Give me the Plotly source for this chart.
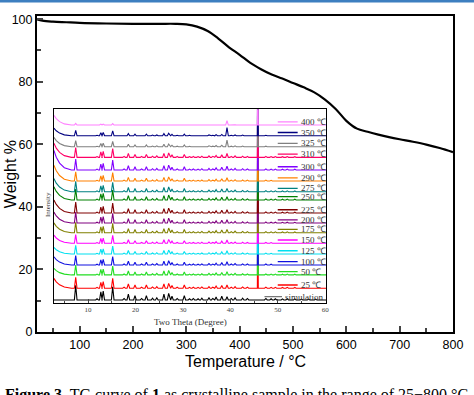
import plotly.graph_objects as go

# ---------------- TG curve data ----------------
tg_temp = [20, 30, 50, 75, 100, 150, 200, 250, 280, 300, 320, 340, 360, 380, 400,
           420, 440, 460, 480, 500, 520, 540, 560, 580, 600, 620, 640, 660, 680,
           700, 725, 750, 775, 800]
tg_weight = [99.9, 99.5, 99.2, 99.0, 98.8, 98.6, 98.5, 98.5, 98.5, 98.3, 97.6, 96.2,
             93.8, 91.0, 88.6, 86.0, 84.0, 82.3, 81.0, 79.6, 78.2, 76.6, 74.3, 71.3,
             67.5, 65.0, 64.0, 63.1, 62.3, 61.6, 60.8, 59.9, 58.8, 57.5]

# ---------------- inset XRD data ----------------
xrd_labels = ["simulation", "25 ℃", "50 ℃", "100 ℃", "125 ℃", "150 ℃", "175 ℃",
              "200 ℃", "225 ℃", "250 ℃", "275 ℃", "290 ℃", "300 ℃", "310 ℃",
              "325 ℃", "350 ℃", "400 ℃"]
xrd_colors = ["#000000", "#ff0000", "#22dd22", "#1010e0", "#00e0f0", "#ff00ff",
              "#808000", "#800080", "#800000", "#008000", "#008080", "#ff8000",
              "#8000ff", "#ff0066", "#808080", "#000080", "#ff80ff"]
xrd_offset = [0.25, 1.32, 2.54, 3.45, 4.45, 5.43, 6.40, 7.28, 8.20, 9.39, 10.15,
              11.12, 12.13, 13.29, 14.26, 15.26, 16.24]
xrd_scale = [1.35, 1.0, 0.9, 0.85, 0.8, 0.8, 0.95, 1.0, 1.0, 1.0, 0.95, 0.85,
             1.0, 0.9, 0.55, 0.5, 0.15]
low_rise = [0.0, 0.9, 0.6, 0.75, 0.6, 0.75, 0.9, 1.0, 1.2, 1.2, 1.2, 1.45, 1.8,
            1.3, 0.85, 0.7, 0.9]
spike_height = [0.0, 8.0, 8.0, 8.0, 8.0, 8.0, 8.0, 8.0, 8.0, 8.0, 8.0, 8.0, 8.0,
                8.0, 8.0, 8.0, 8.0]
peak39_height = [0.3, 0.3, 0.3, 0.3, 0.3, 0.3, 0.3, 0.3, 0.3, 0.3, 0.3, 0.3, 0.35,
                 0.35, 0.6, 0.75, 0.4]

peak_pos = [7.4, 11.9, 12.7, 13.2, 15.2, 17.6, 18.5, 19.9, 21.3, 22.3, 23.6, 24.5,
            26.0, 27.0, 27.7, 28.8, 30.3, 31.4, 32.2, 33.2, 34.0, 35.5, 36.3, 37.0,
            38.2, 40.2, 41.0, 42.6, 43.6, 47.5, 48.6, 49.5, 51.0, 52.0, 53.6, 55.0,
            56.5, 58.0]
peak_rel = [1.0, 0.08, 0.55, 0.6, 0.9, 0.1, 0.4, 0.3, 0.1, 0.3, 0.12, 0.15,
            0.4, 0.45, 0.25, 0.1, 0.3, 0.08, 0.1, 0.08, 0.12, 0.15, 0.1, 0.2,
            0.25, 0.1, 0.15, 0.12, 0.1, 0.1, 0.08, 0.08, 0.07, 0.08, 0.07, 0.06,
            0.06, 0.05]
peak39_pos = 39.3
spike_pos = 45.8
peak_halfwidth = 0.28
spike_halfwidth = 0.1
low_x = [2.8, 3.3, 4.0, 5.0, 6.5]
low_shape = [1.0, 0.65, 0.35, 0.12, 0.0]
inset_range = [2.8, 60.2]

serif = "Liberation Serif"
sans = "Liberation Sans, Arial"

fig = go.Figure()

fig.add_trace(go.Scatter(x=tg_temp, y=tg_weight, mode="lines",
                         line=dict(color="black", width=2.2, shape="spline"),
                         xaxis="x", yaxis="y", showlegend=False, hoverinfo="skip"))

for i, lab in enumerate(xrd_labels):
    base = xrd_offset[i]
    xs = list(low_x)
    ys = [base + low_rise[i] * s for s in low_shape]
    peaks = [(p, r * xrd_scale[i], peak_halfwidth) for p, r in zip(peak_pos, peak_rel)]
    peaks.append((peak39_pos, peak39_height[i], peak_halfwidth))
    if spike_height[i] > 0:
        peaks.append((spike_pos, spike_height[i], spike_halfwidth))
    peaks.sort()
    for p, h, w in peaks:
        xs += [p - w, p, p + w]
        ys += [base, base + h, base]
    xs.append(inset_range[1])
    ys.append(base)
    fig.add_trace(go.Scatter(x=xs, y=ys, mode="lines",
                             line=dict(color=xrd_colors[i], width=1.1),
                             xaxis="x2", yaxis="y2", showlegend=False, hoverinfo="skip"))
    # legend entry drawn inside the inset
    ly = base + 0.3
    if i == 0:
        lx0, lx1, tx = 47.2, 50.9, 51.2
    else:
        lx0, lx1, tx = 50.0, 54.2, 54.5
    fig.add_shape(type="line", xref="x2", yref="y2", x0=lx0, x1=lx1, y0=ly, y1=ly,
                  line=dict(color=xrd_colors[i] if i else "#777777", width=1.3))
    fig.add_annotation(x=tx, y=ly, xref="x2", yref="y2", text=lab, showarrow=False,
                       xanchor="left", yanchor="middle",
                       font=dict(family=serif, size=9, color="#333333"))

fig.update_layout(
    width=474, height=395,
    margin=dict(l=37, r=11, t=16, b=63),
    paper_bgcolor="white", plot_bgcolor="white",
    xaxis=dict(range=[20, 800], dtick=100, tick0=0, ticks="inside", ticklen=6,
               tickwidth=2, showline=True, linewidth=2, linecolor="black", mirror=True,
               showgrid=False, zeroline=False,
               minor=dict(dtick=50, tick0=0, ticks="inside", ticklen=4, tickwidth=2),
               tickfont=dict(family=sans, size=12.5, color="black"),
               domain=[0, 1]),
    yaxis=dict(range=[0, 101], dtick=20, tick0=0, ticks="inside", ticklen=6,
               tickwidth=2, showline=True, linewidth=2, linecolor="black", mirror=True,
               showgrid=False, zeroline=False,
               minor=dict(dtick=10, tick0=0, ticks="inside", ticklen=4, tickwidth=2),
               tickfont=dict(family=sans, size=12.5, color="black"),
               domain=[0, 1]),
    xaxis2=dict(range=inset_range, dtick=10, tick0=0, ticks="inside", ticklen=4,
                tickwidth=1, showline=True, linewidth=1, linecolor="black", mirror=True,
                showgrid=False, zeroline=False, anchor="y2",
                domain=[0.0406, 0.695],
                minor=dict(dtick=5, tick0=0, ticks="inside", ticklen=2, tickwidth=1),
                tickfont=dict(family=serif, size=7, color="#444444")),
    yaxis2=dict(range=[0, 17.68], showticklabels=False, ticks="", showline=True,
                linewidth=1, linecolor="black", mirror=True, showgrid=False,
                zeroline=False, anchor="x2", domain=[0.0927, 0.7047]),
)

# axis titles
fig.add_annotation(xref="paper", yref="paper", x=0.5, y=-0.0918, xanchor="center",
                   yanchor="middle", showarrow=False, text="Temperature / °C",
                   font=dict(family=sans, size=16, color="black"))
fig.add_annotation(xref="paper", yref="paper", x=-0.0646, y=0.5, xanchor="center",
                   yanchor="middle", showarrow=False, text="Weight %", textangle=-90,
                   font=dict(family=sans, size=16, color="black"))
fig.add_annotation(xref="x2", yref="paper", x=31.5, y=0.0316, xanchor="center",
                   yanchor="middle", showarrow=False, text="Two Theta (Degree)",
                   font=dict(family=serif, size=9, color="#333333"))
fig.add_annotation(xref="paper", yref="y2", x=0.026, y=9.0, xanchor="center",
                   yanchor="middle", showarrow=False, text="Intensity", textangle=-90,
                   font=dict(family=serif, size=7, color="#333333"))

# caption (partially visible at bottom, as in the reference) and page header bar
fig.add_annotation(xref="paper", yref="paper", x=-0.082, y=-0.1646, xanchor="left",
                   yanchor="top", showarrow=False,
                   text="<b>Figure 3.</b> TG curve of <b>1</b> as crystalline sample in the range of 25−800 °C",
                   font=dict(family=serif, size=16, color="black"))
fig.add_shape(type="rect", xref="paper", yref="paper", x0=-0.2, x1=1.2, y0=1.0427, y1=1.07,
              line=dict(width=0), fillcolor="#3d7fc0")

fig.write_html("out.html", config={"displayModeBar": False},
               post_script="document.body.style.margin='0px';")
